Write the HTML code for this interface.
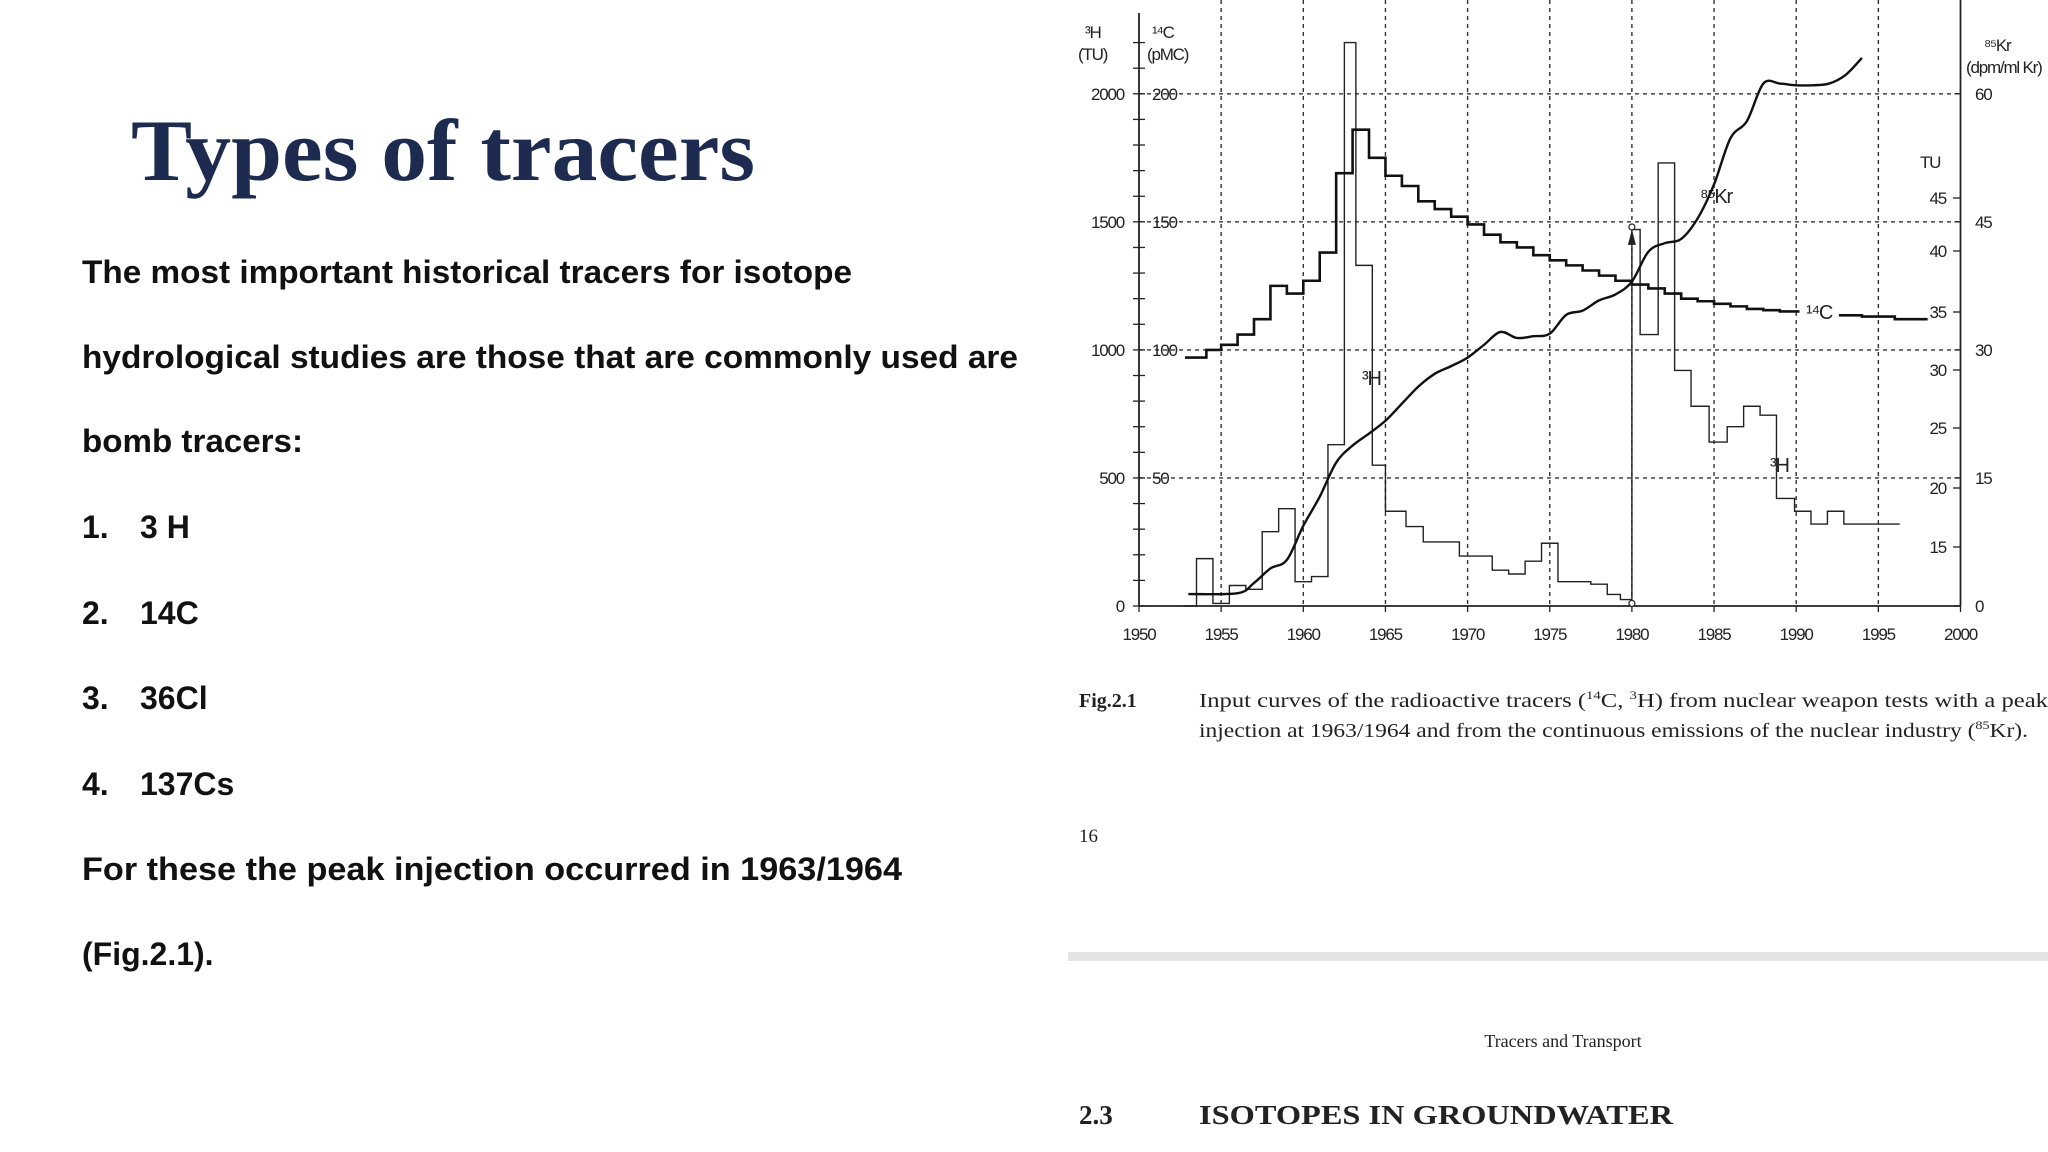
<!DOCTYPE html>
<html><head><meta charset="utf-8"><style>
html,body{margin:0;padding:0;background:#fff;}
svg{display:block;}
.b{font-family:"Liberation Sans",sans-serif;font-weight:bold;font-size:32px;fill:#111;}
.ax{font-family:"Liberation Sans",sans-serif;font-size:17px;fill:#222;letter-spacing:-1.2px;}
.sf{font-family:"Liberation Serif",serif;fill:#222;}
</style></head><body>
<svg id="page" width="2048" height="1152" viewBox="0 0 2048 1152">
<text x="131" y="180" textLength="624" lengthAdjust="spacingAndGlyphs" style="font-family:'Liberation Serif',serif;font-weight:bold;font-size:88px;fill:#1c2b4f;">Types of tracers</text>
<g>
<text class="b" x="82" y="283" textLength="770" lengthAdjust="spacingAndGlyphs">The most important historical tracers for isotope</text>
<text class="b" x="82" y="368" textLength="936" lengthAdjust="spacingAndGlyphs">hydrological studies are  those that are commonly used are</text>
<text class="b" x="82" y="452" textLength="221" lengthAdjust="spacingAndGlyphs">bomb tracers:</text>
<text class="b" x="82" y="538">1.</text><text class="b" x="140" y="538">3 H</text>
<text class="b" x="82" y="624">2.</text><text class="b" x="140" y="624">14C</text>
<text class="b" x="82" y="709">3.</text><text class="b" x="140" y="709">36Cl</text>
<text class="b" x="82" y="795">4.</text><text class="b" x="140" y="795">137Cs</text>
<text class="b" x="82" y="880" textLength="820" lengthAdjust="spacingAndGlyphs">For these the peak  injection occurred in 1963/1964</text>
<text class="b" x="82" y="965">(Fig.2.1).</text>
</g>
<g id="chart"></g>
<g>
<text class="sf" x="1079" y="707" font-size="20" font-weight="bold">Fig.2.1</text>
<text class="sf" x="1199" y="707" font-size="20" textLength="849" lengthAdjust="spacingAndGlyphs">Input curves of the radioactive tracers (<tspan font-size="12" dy="-8">14</tspan><tspan dy="8">C, </tspan><tspan font-size="12" dy="-8">3</tspan><tspan dy="8">H) from nuclear weapon tests with a peak</tspan></text>
<text class="sf" x="1199" y="737" font-size="20" textLength="829" lengthAdjust="spacingAndGlyphs">injection at 1963/1964 and from the continuous emissions of the nuclear industry (<tspan font-size="12" dy="-8">85</tspan><tspan dy="8">Kr).</tspan></text>
<text class="sf" x="1079" y="842" font-size="19">16</text>
<rect x="1068" y="952" width="980" height="9" fill="#e4e4e4"/>
<text class="sf" x="1563" y="1047" font-size="18" text-anchor="middle">Tracers and Transport</text>
<text class="sf" x="1079" y="1124" font-size="27" font-weight="bold">2.3</text>
<text class="sf" x="1199" y="1124" font-size="27" font-weight="bold" textLength="474" lengthAdjust="spacingAndGlyphs">ISOTOPES IN GROUNDWATER</text>
</g>
</svg>
<script>
const h3Years=[1952.7,1953.5,1954.5,1955.5,1956.5,1957.5,1958.5,1959.5,1960.5,1961.5,1962.5,1963.2,1964.2,1965,1966.25,1967.3,1969.5,1971.5,1972.5,1973.5,1974.5,1975.5,1977.5,1978.5,1979.3,1980,1980.5,1981.6,1982.6,1983.6,1984.7,1985.8,1986.8,1987.8,1988.8,1989.9,1990.9,1991.9,1992.9];
const h3Vals=[0,185,10,80,65,290,380,95,115,630,2200,1330,550,370,310,250,195,140,125,175,245,95,85,45,25,1470,1060,1730,920,780,640,700,780,745,420,370,320,370,320];
const h3End=1996.3;
const c14Years=[1952.8,1954.1,1955,1956,1957,1958,1959,1960,1961,1962,1963,1964,1965,1966,1967,1968,1969,1970,1971,1972,1973,1974,1975,1976,1977,1978,1979,1980,1981,1982,1983,1984,1985,1986,1987,1988,1989];
const c14Vals=[97,100,102,106,112,125,122,127,138,169,186,175,168,164,158,155,152,149,145,142,140,137,135,133,131,129,127,125.5,124,122,120,119,118,117,116,115.5,115];
const c14End=1990.2;
const c14bYears=[1992.6,1993,1994,1996];
const c14bVals=[113.5,113.5,113,112];
const c14bEnd=1998;
const krYears=[1953,1956,1957,1958,1959,1960,1961,1962,1963,1964,1965,1966,1967,1968,1969,1970,1971,1972,1973,1974,1975,1976,1977,1978,1979,1980,1981,1982,1983,1984,1985,1986,1987,1988,1989,1990,1991,1992,1993,1994];
const krVals=[1.4,1.5,2.7,4.4,5.4,9.4,12.8,16.8,18.8,20.2,21.7,23.7,25.7,27.2,28.1,29.1,30.6,32.1,31.4,31.6,31.9,34.1,34.6,35.8,36.5,38.0,41.5,42.5,43.0,45.4,49.4,54.8,56.8,61.2,61.2,61.0,61.0,61.2,62.2,64.2];
const yearTicks=[1950,1955,1960,1965,1970,1975,1980,1985,1990,1995,2000];
const tuTicks=[0,500,1000,1500,2000];
const pmcTicks=[50,100,150,200];
const krTicks=[0,15,30,45,60];
const innerTU=[[45,198],[40,251],[35,312],[30,370],[25,428],[20,488],[15,547]];

const NS='http://www.w3.org/2000/svg';
const g=document.getElementById('chart');
const X=y=>1139+(y-1950)*16.43;
const Y=v=>606-v*0.2561;
const YC=p=>Y(p*10);
const YK=k=>Y(k*2000/60);
function mk(t,a,p){const e=document.createElementNS(NS,t);for(const k in a)e.setAttribute(k,a[k]);(p||g).appendChild(e);return e;}
function txt(x,y,s,cls,anchor){const e=mk('text',{x:x,y:y,class:cls||'ax','text-anchor':anchor||'start'});e.textContent=s;return e;}

yearTicks.slice(1,-1).forEach(yr=>{const l=mk('line',{x1:X(yr),y1:0,x2:X(yr),y2:606,stroke:'#333','stroke-width':1.4,'stroke-dasharray':'4,4'});

});
tuTicks.slice(1).forEach(v=>{const l=mk('line',{x1:X(1950),y1:Y(v),x2:X(2000),y2:Y(v),stroke:'#333','stroke-width':1.4,'stroke-dasharray':'4,4'});

});
const la=mk('line',{x1:X(1950),y1:13,x2:X(1950),y2:606,stroke:'#222','stroke-width':1.8});


const ra=mk('line',{x1:X(2000),y1:0,x2:X(2000),y2:606,stroke:'#222','stroke-width':1.8});


const xa=mk('line',{x1:X(1950),y1:606,x2:X(2000),y2:606,stroke:'#222','stroke-width':1.8});


for(let v=0;v<=2200;v+=100){mk('line',{x1:X(1950)-6,y1:Y(v),x2:X(1950)+6,y2:Y(v),stroke:'#222','stroke-width':1.3});}
yearTicks.forEach(yr=>{mk('line',{x1:X(yr),y1:606,x2:X(yr),y2:612,stroke:'#222','stroke-width':1.3});
const t=txt(X(yr),640,String(yr),'ax','middle');

});
tuTicks.forEach(v=>{const t=txt(1124,Y(v)+6,String(v),'ax','end');

});
pmcTicks.forEach(v=>{const t=txt(1152,Y(v*10)+6,String(v));

});
krTicks.forEach(v=>{mk('line',{x1:X(2000)-6,y1:YK(v),x2:X(2000),y2:YK(v),stroke:'#222','stroke-width':1.3});
const t=txt(1975,YK(v)+6,String(v));

});
innerTU.forEach(([v,y])=>{mk('line',{x1:1953,y1:y,x2:1961,y2:y,stroke:'#222','stroke-width':1.3});
const t=txt(1946,y+6,String(v),'ax','end');

});
[[1085,38,'³H'],[1078,60,'(TU)'],[1152,38,'¹⁴C'],[1147,60,'(pMC)'],[1984,51,'⁸⁵Kr'],[1966,73,'(dpm/ml Kr)'],[1920,168,'TU']].forEach((a,i)=>{
const t=txt(a[0],a[1],a[2]);

});

function stepPath(xs,vs,end,yf){let d='';for(let i=0;i<xs.length;i++){const x0=X(xs[i]),x1=X(i+1<xs.length?xs[i+1]:end),y=yf(vs[i]);d+=(i?'L':'M')+x0+','+y+'L'+x1+','+y;}return d;}
const p3=mk('path',{d:stepPath(h3Years,h3Vals,h3End,Y),fill:'none',stroke:'#222','stroke-width':1.4});


const pc=mk('path',{d:stepPath(c14Years,c14Vals,c14End,YC),fill:'none',stroke:'#111','stroke-width':2.6});


const pc2=mk('path',{d:stepPath(c14bYears,c14bVals,c14bEnd,YC),fill:'none',stroke:'#111','stroke-width':2.6});


const pts=krYears.map((yr,i)=>[X(yr),YK(krVals[i])]);
let d='M'+pts[0][0]+','+pts[0][1];
for(let i=0;i<pts.length-1;i++){const p0=pts[Math.max(0,i-1)],p1=pts[i],p2=pts[i+1],p3b=pts[Math.min(pts.length-1,i+2)];
d+='C'+(p1[0]+(p2[0]-p0[0])/6)+','+(p1[1]+(p2[1]-p0[1])/6)+' '+(p2[0]-(p3b[0]-p1[0])/6)+','+(p2[1]-(p3b[1]-p1[1])/6)+' '+p2[0]+','+p2[1];}
const pk=mk('path',{d:d,fill:'none',stroke:'#111','stroke-width':2.4});


const ah=mk('path',{d:`M${X(1980)-4},${Y(1410)}L${X(1980)},${Y(1470)}L${X(1980)+4},${Y(1410)}Z`,fill:'#222'});


mk('circle',{cx:X(1980),cy:Y(10),r:3,fill:'#fff',stroke:'#222','stroke-width':1.2});
mk('circle',{cx:X(1980),cy:Y(1480),r:3,fill:'#fff',stroke:'#222','stroke-width':1.2});
[[1362,385,'³H'],[1770,472,'³H'],[1700,203,'⁸⁵Kr'],[1806,319,'¹⁴C']].forEach((a,i)=>{
const t=txt(a[0],a[1],a[2]);t.setAttribute('style','font-size:20px');

});
</script>
</body></html>
